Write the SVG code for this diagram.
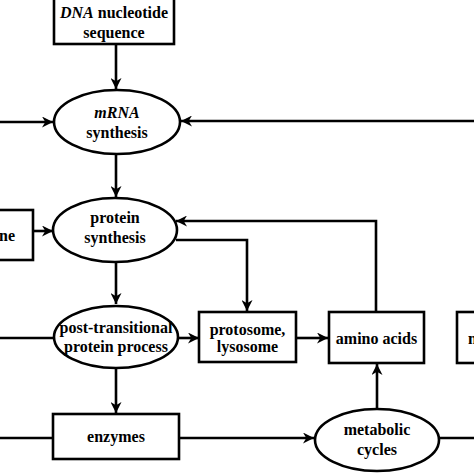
<svg xmlns="http://www.w3.org/2000/svg" width="474" height="474" viewBox="0 0 474 474">
<defs>
<marker id="ah" viewBox="0 0 10 10" refX="10" refY="5" markerWidth="11" markerHeight="11" markerUnits="userSpaceOnUse" orient="auto">
<path d="M0,0 L10,5 L0,10 L3,5 Z" fill="#000"/>
</marker>
</defs>
<style>
.n{fill:#fff;stroke:#000;stroke-width:2.6}
.t{font-family:"Liberation Serif","Times New Roman",serif;font-weight:bold;font-size:16px;fill:#000;text-anchor:middle}
.i{font-style:italic}
.c{fill:none;stroke:#000;stroke-width:2.6}
.a{marker-end:url(#ah)}
</style>
<rect width="474" height="474" fill="#fff"/>
<g id="connectors">
<path class="c a" d="M116,44 V89"/>
<path class="c a" d="M0,122 H53"/>
<path class="c a" d="M474,121 H181"/>
<path class="c a" d="M116,155 V197"/>
<path class="c a" d="M33,231 H53"/>
<path class="c a" d="M376,312 V221 H176"/>
<path class="c a" d="M176,240 H247 V311"/>
<path class="c a" d="M116,262 V304"/>
<path class="c" d="M0,338 H53"/>
<path class="c a" d="M178,338 H199"/>
<path class="c a" d="M296,338 H328"/>
<path class="c a" d="M116,368 V413"/>
<path class="c" d="M0,438 H53"/>
<path class="c a" d="M179,438 H314"/>
<path class="c a" d="M377,409 V364"/>
<path class="c" d="M439,438 H474"/>
</g>
<g id="dna">
<rect class="n" x="54" y="-2" width="120" height="46"/>
<text class="t" x="114" y="18"><tspan class="i">DNA</tspan> nucleotide</text>
<text class="t" x="114" y="38">sequence</text>
</g>
<g id="mrna">
<ellipse class="n" cx="117" cy="122" rx="63" ry="32"/>
<text class="t i" x="117" y="118">mRNA</text>
<text class="t" x="117" y="138">synthesis</text>
</g>
<g id="left-box">
<rect class="n" x="-10" y="210" width="43" height="50"/>
<text class="t" x="15" y="241" style="text-anchor:end">ne</text>
</g>
<g id="protein">
<ellipse class="n" cx="115" cy="230" rx="62" ry="32"/>
<text class="t" x="115" y="223">protein</text>
<text class="t" x="115" y="243">synthesis</text>
</g>
<g id="post">
<ellipse class="n" cx="116" cy="337" rx="62" ry="31"/>
<text class="t" x="116" y="333">post-transitional</text>
<text class="t" x="116" y="352">protein process</text>
</g>
<g id="protosome">
<rect class="n" x="199" y="312" width="97" height="50"/>
<text class="t" x="247.5" y="335">protosome,</text>
<text class="t" x="247.5" y="352">lysosome</text>
</g>
<g id="amino">
<rect class="n" x="329" y="312" width="95" height="51"/>
<text class="t" x="376.5" y="344">amino acids</text>
</g>
<g id="right-box">
<rect class="n" x="457" y="312" width="30" height="51"/>
<text class="t" x="468" y="344" style="text-anchor:start">n</text>
</g>
<g id="enzymes">
<rect class="n" x="53" y="414" width="126" height="45"/>
<text class="t" x="116" y="442">enzymes</text>
</g>
<g id="metabolic">
<ellipse class="n" cx="377" cy="440" rx="62" ry="31"/>
<text class="t" x="377" y="435">metabolic</text>
<text class="t" x="377" y="455">cycles</text>
</g>
</svg>
